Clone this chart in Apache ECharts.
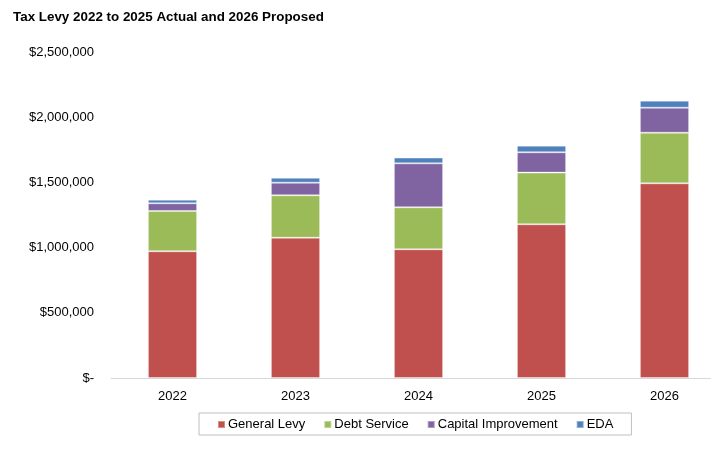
<!DOCTYPE html>
<html>
<head>
<meta charset="utf-8">
<script src="https://cdn.jsdelivr.net/npm/echarts@6/dist/echarts.min.js"></script>
<style>
  html, body { margin: 0; padding: 0; background: #fff; }
  #chart { width: 711px; height: 458px; }
</style>
</head>
<body>
<div id="chart"></div>
<script>
var years = ['2022', '2023', '2024', '2025', '2026'];
var generalLevy = [972000, 1076000, 987000, 1179000, 1493000];
var debtService = [309000, 325000, 322000, 396000, 388000];
var capitalImprovement = [59000, 97000, 337000, 156000, 192000];
var eda = [27000, 38000, 44000, 51000, 54000];

function money(v) {
    if (v === 0) return '$-';
    return '$' + v.toString().replace(/\B(?=(\d{3})+(?!\d))/g, ',');
}

function bar(name, data, color) {
    return {
        name: name,
        type: 'bar',
        stack: 'levy',
        barWidth: '40%',
        data: data,
        itemStyle: { color: color, borderColor: 'rgba(255,255,255,0.35)', borderWidth: 1 }
    };
}

var option = {
    animation: false,
    textStyle: { fontFamily: 'Liberation Sans, Arial, sans-serif' },
    title: {
        text: 'Tax Levy 2022 to 2025 Actual and 2026 Proposed',
        left: 8,
        top: 6,
        textStyle: { fontSize: 13.4, fontWeight: 'bold', color: '#000' }
    },
    legend: {
        data: ['General Levy', 'Debt Service', 'Capital Improvement', 'EDA'],
        left: 199,
        top: 413,
        padding: [5, 18, 4, 18],
        itemGap: 18,
        itemWidth: 7,
        itemHeight: 7,
        icon: 'rect',
        borderColor: '#bfbfbf',
        borderWidth: 1,
        textStyle: { fontSize: 13, color: '#000', padding: [0, 0, 0, -2] }
    },
    grid: { left: 111, width: 615, top: 52, bottom: 80, outerBoundsMode: 'none', containLabel: false },
    xAxis: {
        type: 'category',
        data: years,
        axisTick: { show: false },
        axisLine: { lineStyle: { color: '#d9d9d9', width: 1 } },
        axisLabel: { color: '#000', fontSize: 13, margin: 12 }
    },
    yAxis: {
        type: 'value',
        min: 0,
        max: 2500000,
        interval: 500000,
        splitLine: { show: false },
        axisLine: { show: false },
        axisTick: { show: false },
        axisLabel: { color: '#000', fontSize: 13, margin: 17, formatter: money }
    },
    series: [
        bar('General Levy', generalLevy, '#C0504D'),
        bar('Debt Service', debtService, '#9BBB59'),
        bar('Capital Improvement', capitalImprovement, '#8064A2'),
        bar('EDA', eda, '#4F81BD')
    ]
};

echarts.init(document.getElementById('chart')).setOption(option);
</script>
</body>
</html>
